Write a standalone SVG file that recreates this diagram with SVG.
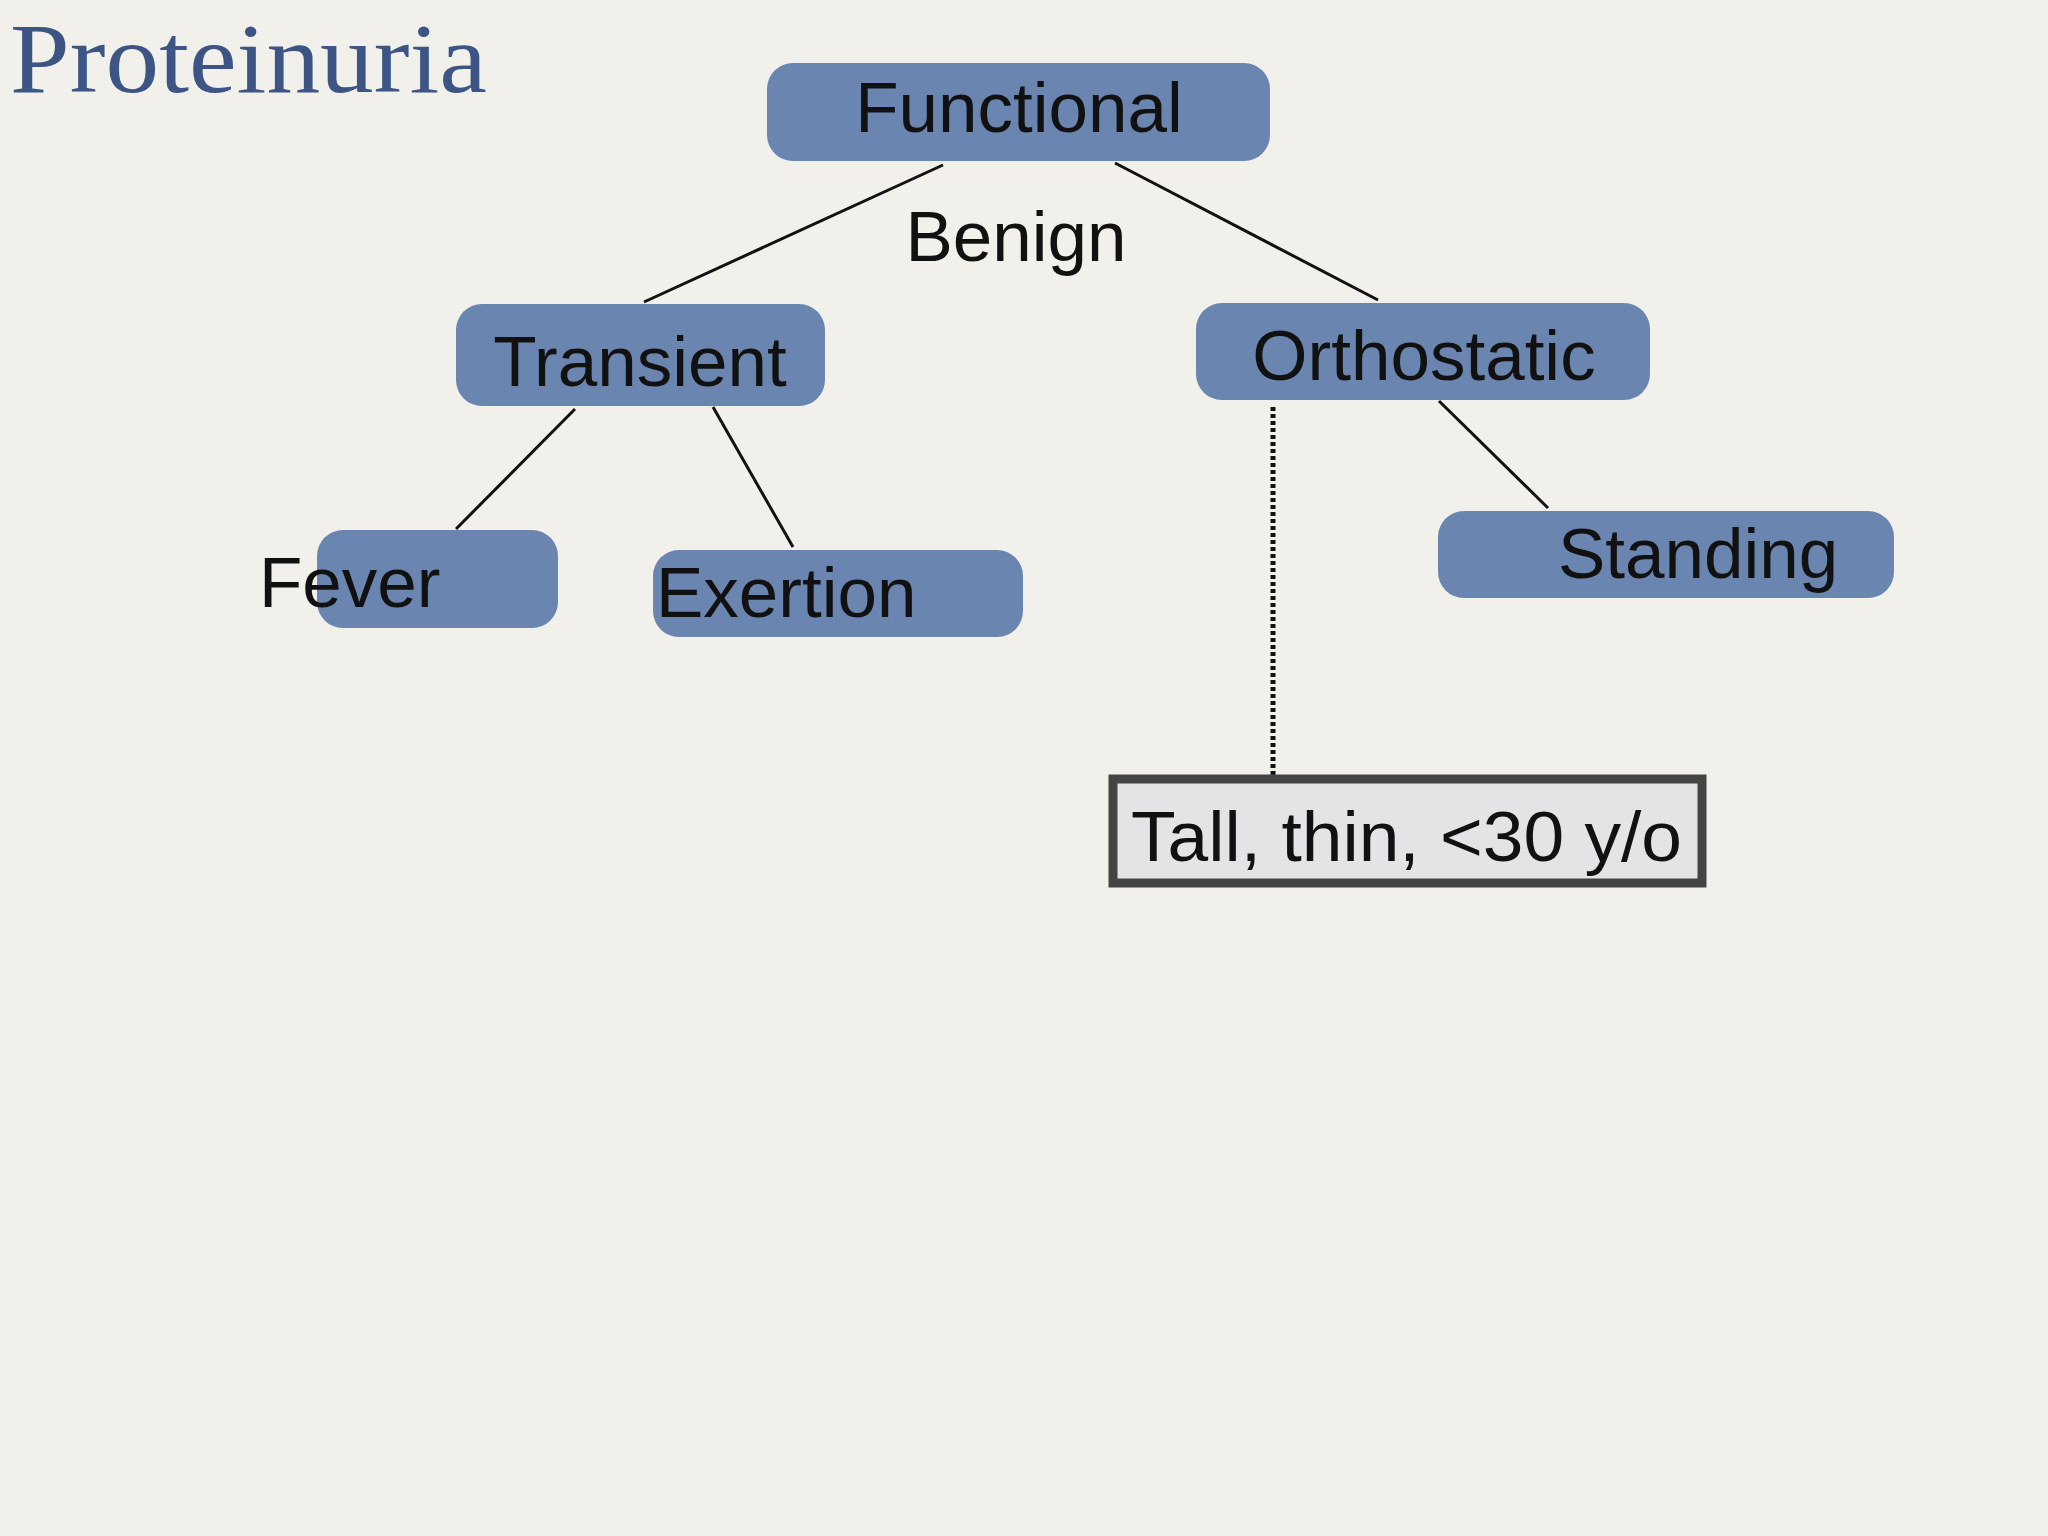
<svg xmlns="http://www.w3.org/2000/svg" width="2048" height="1536" viewBox="0 0 2048 1536">
<style>
.n{fill:#6a85b0}
.t{font-family:"Liberation Sans",Arial,sans-serif;font-size:71px;fill:#111}
.c line{stroke:#111;stroke-width:3}
</style>
<rect width="2048" height="1536" fill="#f2f0eb"/>
<text x="10" y="92" font-family="Liberation Serif,serif" font-size="100" fill="#3d5585" textLength="477" lengthAdjust="spacingAndGlyphs">Proteinuria</text>
<g class="c">
<line x1="943" y1="165" x2="644" y2="302"/>
<line x1="1115" y1="163" x2="1378" y2="300"/>
<line x1="575" y1="409" x2="456" y2="529"/>
<line x1="713" y1="407" x2="793" y2="547"/>
<line x1="1439" y1="401" x2="1548" y2="508"/>
<line x1="1273" y1="407" x2="1273" y2="793" stroke-dasharray="4 3" style="stroke-width:5"/>
</g>
<g id="functional"><rect class="n" x="767" y="63" width="503" height="98" rx="26"/><text class="t" x="1019" y="132" text-anchor="middle">Functional</text></g>
<g id="benign"><text class="t" x="1016" y="261" text-anchor="middle">Benign</text></g>
<g id="transient"><rect class="n" x="456" y="304" width="369" height="102" rx="26"/><text class="t" x="640" y="386" text-anchor="middle">Transient</text></g>
<g id="orthostatic"><rect class="n" x="1196" y="303" width="454" height="97" rx="26"/><text class="t" x="1424" y="380" text-anchor="middle">Orthostatic</text></g>
<g id="fever"><rect class="n" x="317" y="530" width="241" height="98" rx="26"/><text class="t" x="259" y="607">Fever</text></g>
<g id="exertion"><rect class="n" x="653" y="550" width="370" height="87" rx="26"/><text class="t" x="656" y="617">Exertion</text></g>
<g id="standing"><rect class="n" x="1438" y="511" width="456" height="87" rx="26"/><text class="t" x="1558" y="578">Standing</text></g>
<g id="tall"><rect x="1113" y="779" width="589" height="104" fill="#e4e3e6" stroke="#444" stroke-width="9"/><text class="t" x="1131" y="861" textLength="551" lengthAdjust="spacingAndGlyphs">Tall, thin, &lt;30 y/o</text></g>
</svg>
